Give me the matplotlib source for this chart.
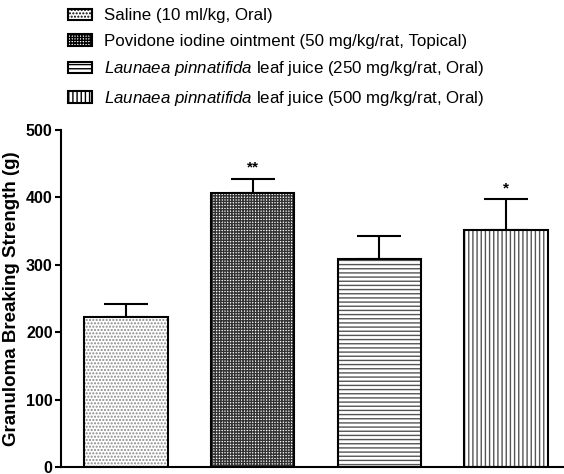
import matplotlib
matplotlib.use("Agg")
import matplotlib.pyplot as plt
from matplotlib.patches import Patch

plt.rcParams['font.family'] = ['Liberation Sans', 'DejaVu Sans']
plt.rcParams['mathtext.fontset'] = 'custom'
plt.rcParams['mathtext.it'] = 'Liberation Sans:italic'
plt.rcParams['mathtext.rm'] = 'Liberation Sans'
plt.rcParams['hatch.linewidth'] = 1.0

labels = ["Saline (10 ml/kg, Oral)",
          "Povidone iodine ointment (50 mg/kg/rat, Topical)",
          r"$\it{Launaea\ pinnatifida}$ leaf juice (250 mg/kg/rat, Oral)",
          r"$\it{Launaea\ pinnatifida}$ leaf juice (500 mg/kg/rat, Oral)"]
values = [222, 406, 309, 352]
errors = [20, 22, 33, 45]
signif = ["", "**", "", "*"]
hatches = ['.....', '++++++', '----', '||||']
hatch_colors = ['#888888', '#333333', '#555555', '#555555']
yticks = [0, 100, 200, 300, 400, 500]

fig = plt.figure(figsize=(5.64, 4.74), dpi=100)
ax = fig.add_axes([61/564, 7/474, 503/564, 337/474])

x = list(range(len(values)))
w = 0.66
ax.bar(x, values, width=w, color='white', edgecolor=hatch_colors,
       hatch=hatches, linewidth=0, zorder=2)
ax.bar(x, values, width=w, fill=False, edgecolor='black', linewidth=1.5, zorder=3)
ax.errorbar(x, values, yerr=[[0]*len(errors), errors], fmt='none',
            ecolor='black', elinewidth=1.5, capsize=15.5, capthick=1.5, zorder=1)
for xi, v, e, s in zip(x, values, errors, signif):
    if s:
        ax.text(xi, v + e + 6, s, ha='center', va='bottom', fontsize=11, fontweight='bold')

ax.set_xlim(-0.512, 3.457)
ax.set_ylim(0, 500)
ax.set_yticks(yticks)
ax.set_yticklabels([str(t) for t in yticks], fontweight='bold', fontsize=11.5)
ax.set_xticks([])
ax.spines['top'].set_visible(False)
ax.spines['right'].set_visible(False)
ax.spines['left'].set_linewidth(1.5)
ax.spines['bottom'].set_linewidth(1.5)
ax.tick_params(axis='y', direction='out', length=4.5, width=1.5, pad=1.5)
ax.set_ylabel("Granuloma Breaking Strength (g)", fontweight='bold', fontsize=13.5, labelpad=4)

handles = [Patch(facecolor='white', edgecolor='black', hatch=h, linewidth=1.5) for h in hatches]
fig.legend(handles, labels, loc='upper left', bbox_to_anchor=(60/564, 1.0),
           frameon=False, fontsize=12.2, handlelength=1.36, handleheight=0.7,
           handletextpad=0.72, labelspacing=0.62, borderaxespad=0.1)

fig.savefig("out.png", dpi=100)
